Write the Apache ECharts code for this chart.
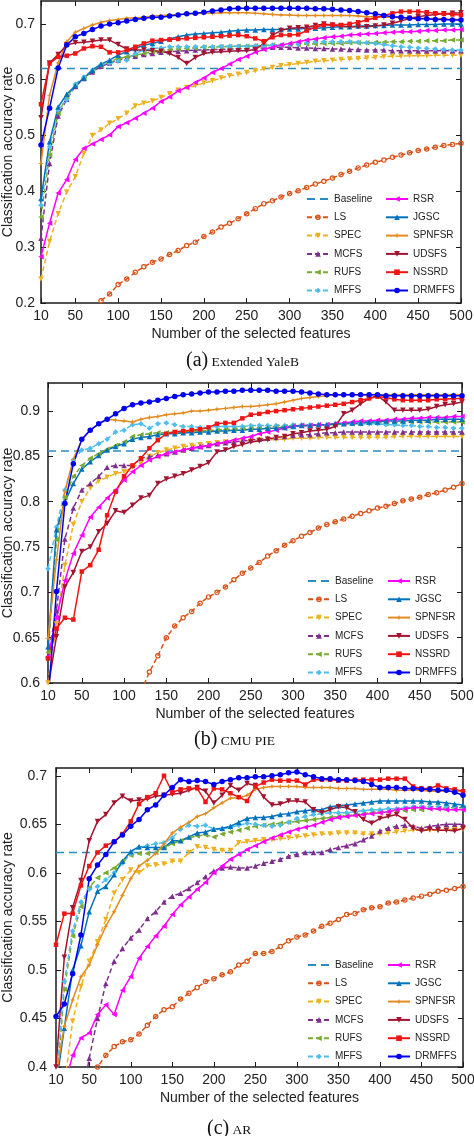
<!DOCTYPE html>
<html><head><meta charset="utf-8">
<script src="https://cdn.jsdelivr.net/npm/echarts@6/dist/echarts.min.js"></script>
<style>html,body{margin:0;padding:0;background:#fff}#c{width:474px;height:1136px}</style>
</head><body><div id="c"></div>
<script>
// ---------------- DATA ----------------
const xs = [10,20,30,40,50,60,70,80,90,100,110,120,130,140,150,160,170,180,190,200,
            210,220,230,240,250,260,270,280,290,300,310,320,330,340,350,360,370,380,390,400,
            410,420,430,440,450,460,470,480,490,500];
const xTicks = [10,50,100,150,200,250,300,350,400,450,500];
const methodNames = ['Baseline','LS','SPEC','MCFS','RUFS','MFFS','RSR','JGSC','SPNFSR','UDSFS','NSSRD','DRMFFS'];
const xAxisTitle = 'Number of the selected features';
const yAxisTitle = 'Classification accuracy rate';

// (a) Extended YaleB
const captionA = ['(a)', 'Extended YaleB'];
const yTicksA = [0.2,0.3,0.4,0.5,0.6,0.7];
const baselineA = 0.62;
const aLS = [null,null,null,null,null,null,null,0.204,0.216,0.233,
  0.243,0.255,0.265,0.273,0.279,0.287,0.294,0.303,0.309,0.319,
  0.327,0.336,0.343,0.351,0.360,0.369,0.378,0.383,0.390,0.396,
  0.401,0.407,0.413,0.418,0.424,0.430,0.436,0.442,0.447,0.452,
  0.456,0.461,0.465,0.469,0.473,0.476,0.479,0.482,0.484,0.486];
const aSPEC = [0.243,0.310,0.360,0.399,0.426,0.468,0.500,0.510,0.522,0.530,
  0.540,0.553,0.558,0.562,0.568,0.575,0.581,0.586,0.589,0.594,
  0.598,0.603,0.607,0.610,0.613,0.616,0.619,0.622,0.625,0.627,
  0.629,0.631,0.633,0.634,0.635,0.636,0.637,0.638,0.639,0.640,
  0.641,0.642,0.642,0.643,0.643,0.643,0.644,0.644,0.644,0.644];
const aMCFS = [0.316,0.450,0.535,0.565,0.588,0.602,0.614,0.624,0.630,0.635,
  0.639,0.642,0.645,0.647,0.649,0.650,0.651,0.652,0.653,0.653,
  0.654,0.654,0.655,0.655,0.656,0.657,0.657,0.658,0.658,0.658,
  0.657,0.657,0.656,0.656,0.655,0.655,0.654,0.654,0.653,0.653,
  0.653,0.652,0.652,0.652,0.652,0.652,0.652,0.652,0.652,0.652];
const aRUFS = [0.354,0.465,0.540,0.570,0.590,0.603,0.615,0.625,0.632,0.638,
  0.641,0.644,0.647,0.650,0.652,0.654,0.655,0.656,0.657,0.658,
  0.658,0.659,0.659,0.660,0.660,0.661,0.661,0.662,0.662,0.663,
  0.663,0.664,0.664,0.665,0.665,0.665,0.666,0.666,0.666,0.667,
  0.667,0.668,0.668,0.669,0.669,0.670,0.670,0.670,0.671,0.671];
const aMFFS = [0.375,0.480,0.546,0.564,0.592,0.605,0.617,0.627,0.630,0.633,
  0.635,0.647,0.653,0.656,0.657,0.659,0.659,0.659,0.659,0.659,
  0.659,0.660,0.660,0.660,0.660,0.661,0.661,0.662,0.662,0.663,
  0.664,0.666,0.668,0.668,0.668,0.668,0.668,0.667,0.666,0.665,
  0.663,0.661,0.659,0.658,0.657,0.656,0.655,0.654,0.653,0.653];
const aRSR = [0.283,0.343,0.397,0.421,0.457,0.477,0.485,0.493,0.501,0.516,
  0.523,0.531,0.540,0.549,0.561,0.569,0.580,0.586,0.595,0.603,
  0.613,0.620,0.628,0.636,0.642,0.649,0.654,0.658,0.662,0.665,
  0.668,0.671,0.673,0.675,0.677,0.678,0.680,0.681,0.682,0.683,
  0.684,0.685,0.686,0.686,0.687,0.688,0.688,0.689,0.689,0.690];
const aJGSC = [0.387,0.489,0.551,0.574,0.589,0.603,0.617,0.628,0.635,0.644,
  0.650,0.656,0.662,0.665,0.669,0.673,0.677,0.680,0.682,0.683,
  0.684,0.685,0.687,0.688,0.689,0.689,0.690,0.690,0.690,0.691,
  0.691,0.692,0.692,0.693,0.694,0.695,0.695,0.696,0.696,0.697,
  0.697,0.698,0.698,0.698,0.699,0.699,0.699,0.700,0.700,0.700];
const aSPNFSR = [0.450,0.572,0.630,0.668,0.685,0.692,0.698,0.703,0.706,0.708,
  0.710,0.711,0.712,0.714,0.715,0.716,0.717,0.718,0.718,0.719,
  0.719,0.720,0.720,0.720,0.720,0.719,0.718,0.717,0.716,0.716,
  0.715,0.715,0.715,0.715,0.715,0.715,0.715,0.714,0.713,0.713,
  0.712,0.712,0.711,0.711,0.710,0.710,0.709,0.709,0.708,0.708];
const aUDSFS = [0.532,0.630,0.645,0.662,0.666,0.667,0.669,0.671,0.671,0.663,
  0.655,0.653,0.653,0.652,0.651,0.647,0.640,0.629,0.640,0.647,
  0.649,0.650,0.651,0.652,0.652,0.654,0.665,0.680,0.688,0.692,
  0.693,0.694,0.697,0.700,0.698,0.696,0.695,0.695,0.695,0.696,
  0.698,0.701,0.705,0.710,0.713,0.715,0.717,0.718,0.719,0.720];
const aNSSRD = [0.556,0.629,0.641,0.643,0.647,0.656,0.660,0.659,0.649,0.649,
  0.653,0.659,0.665,0.670,0.671,0.672,0.673,0.674,0.675,0.676,
  0.677,0.678,0.679,0.680,0.678,0.674,0.669,0.676,0.680,0.680,
  0.681,0.688,0.694,0.698,0.698,0.698,0.700,0.703,0.707,0.711,
  0.715,0.719,0.722,0.722,0.722,0.721,0.719,0.718,0.717,0.716];
const aDRMFFS = [0.483,0.549,0.621,0.662,0.677,0.683,0.690,0.696,0.700,0.702,
  0.705,0.708,0.710,0.712,0.712,0.714,0.716,0.718,0.719,0.721,
  0.723,0.725,0.727,0.728,0.728,0.728,0.728,0.728,0.728,0.728,
  0.728,0.728,0.727,0.727,0.726,0.725,0.724,0.722,0.720,0.718,
  0.715,0.713,0.712,0.710,0.709,0.709,0.708,0.708,0.707,0.707];

// (b) CMU PIE
const captionB = ['(b)', 'CMU PIE'];
const yTicksB = [0.6,0.65,0.7,0.75,0.8,0.85,0.9];
const baselineB = 0.856;
const bLS = [null,null,null,null,null,null,null,null,null,null,
  null,0.590,0.612,0.630,0.650,0.663,0.672,0.679,0.688,0.695,
  0.700,0.706,0.714,0.721,0.727,0.733,0.740,0.746,0.752,0.757,
  0.762,0.766,0.771,0.775,0.778,0.781,0.784,0.787,0.790,0.793,
  0.795,0.798,0.801,0.803,0.805,0.808,0.810,0.813,0.816,0.820];
const bSPEC = [0.600,0.665,0.730,0.775,0.800,0.815,0.823,0.827,0.831,0.833,
  0.838,0.843,0.850,0.854,0.857,0.859,0.861,0.862,0.863,0.864,
  0.865,0.866,0.866,0.867,0.867,0.868,0.868,0.869,0.869,0.870,
  0.870,0.870,0.871,0.871,0.871,0.871,0.871,0.871,0.871,0.871,
  0.871,0.872,0.872,0.872,0.872,0.872,0.872,0.872,0.872,0.872];
const bMCFS = [0.630,0.680,0.759,0.793,0.813,0.820,0.828,0.838,0.840,0.840,
  0.840,0.848,0.850,0.851,0.853,0.855,0.857,0.859,0.861,0.862,
  0.864,0.865,0.866,0.867,0.868,0.869,0.870,0.871,0.872,0.873,
  0.874,0.874,0.875,0.876,0.876,0.877,0.877,0.877,0.877,0.877,
  0.877,0.877,0.877,0.877,0.877,0.877,0.877,0.877,0.877,0.877];
const bRUFS = [0.634,0.758,0.805,0.828,0.840,0.848,0.853,0.858,0.862,0.866,
  0.872,0.874,0.875,0.876,0.876,0.877,0.877,0.878,0.878,0.879,
  0.879,0.880,0.880,0.881,0.881,0.882,0.882,0.883,0.883,0.884,
  0.884,0.884,0.885,0.885,0.885,0.886,0.886,0.886,0.887,0.887,
  0.887,0.887,0.888,0.888,0.888,0.888,0.888,0.888,0.888,0.888];
const bMFFS = [0.726,0.772,0.813,0.846,0.857,0.859,0.864,0.869,0.877,0.879,
  0.885,0.886,0.881,0.886,0.887,0.885,0.883,0.883,0.882,0.882,
  0.883,0.883,0.883,0.883,0.884,0.884,0.884,0.884,0.884,0.885,
  0.885,0.885,0.885,0.885,0.886,0.886,0.886,0.886,0.886,0.886,
  0.885,0.885,0.884,0.884,0.883,0.883,0.882,0.882,0.881,0.881];
const bRSR = [0.629,0.672,0.713,0.743,0.763,0.783,0.794,0.804,0.813,0.824,
  0.833,0.840,0.846,0.850,0.853,0.855,0.857,0.859,0.860,0.862,
  0.864,0.866,0.868,0.870,0.872,0.875,0.877,0.879,0.881,0.883,
  0.884,0.884,0.885,0.885,0.886,0.887,0.888,0.889,0.889,0.890,
  0.890,0.891,0.891,0.892,0.892,0.893,0.893,0.893,0.894,0.894];
const bJGSC = [0.640,0.769,0.800,0.820,0.836,0.844,0.851,0.857,0.861,0.864,
  0.869,0.871,0.872,0.874,0.875,0.875,0.876,0.876,0.877,0.877,
  0.878,0.878,0.879,0.879,0.880,0.880,0.881,0.881,0.882,0.883,
  0.884,0.884,0.885,0.885,0.886,0.886,0.887,0.887,0.888,0.888,
  0.889,0.889,0.889,0.890,0.890,0.890,0.891,0.891,0.891,0.891];
const bSPNFSR = [0.649,0.736,0.811,0.847,0.868,0.879,0.886,0.891,0.890,0.889,
  0.888,0.891,0.893,0.894,0.896,0.897,0.898,0.900,0.900,0.901,
  0.902,0.903,0.904,0.905,0.905,0.906,0.907,0.908,0.910,0.912,
  0.914,0.915,0.916,0.917,0.918,0.918,0.918,0.918,0.918,0.918,
  0.918,0.918,0.918,0.918,0.918,0.918,0.918,0.918,0.918,0.918];
const bUDSFS = [0.595,0.651,0.706,0.722,0.745,0.750,0.767,0.776,0.790,0.788,
  0.796,0.804,0.807,0.820,0.825,0.828,0.831,0.835,0.839,0.843,
  0.855,0.857,0.861,0.863,0.866,0.867,0.869,0.871,0.872,0.875,
  0.876,0.878,0.879,0.880,0.883,0.897,0.901,0.908,0.914,0.917,
  0.910,0.901,0.901,0.901,0.901,0.902,0.905,0.907,0.908,0.910];
const bNSSRD = [0.627,0.660,0.672,0.670,0.723,0.730,0.747,0.785,0.811,0.828,
  0.840,0.848,0.859,0.868,0.875,0.877,0.878,0.879,0.880,0.882,
  0.886,0.887,0.887,0.892,0.896,0.897,0.899,0.900,0.901,0.902,
  0.903,0.904,0.905,0.906,0.907,0.908,0.910,0.912,0.914,0.916,
  0.915,0.913,0.912,0.912,0.912,0.912,0.913,0.913,0.914,0.914];
const bDRMFFS = [0.580,0.701,0.798,0.842,0.869,0.879,0.886,0.891,0.897,0.903,
  0.907,0.909,0.910,0.912,0.914,0.916,0.918,0.919,0.920,0.921,
  0.921,0.922,0.922,0.923,0.923,0.923,0.923,0.922,0.922,0.922,
  0.921,0.920,0.919,0.918,0.918,0.918,0.918,0.918,0.918,0.918,
  0.917,0.917,0.917,0.917,0.917,0.917,0.917,0.917,0.917,0.917];

// (c) AR
const captionC = ['(c)', 'AR'];
const yTicksC = [0.4,0.45,0.5,0.55,0.6,0.65,0.7];
const baselineC = 0.621;
const cLS = [null,null,null,null,0.390,0.400,0.412,0.421,0.426,0.428,
  0.434,0.443,0.452,0.459,0.462,0.470,0.476,0.482,0.488,0.491,
  0.495,0.498,0.505,0.509,0.517,0.517,0.519,0.524,0.530,0.534,
  0.536,0.540,0.545,0.548,0.552,0.557,0.558,0.562,0.564,0.565,
  0.569,0.570,0.572,0.574,0.576,0.578,0.581,0.582,0.584,0.586];
const cSPEC = [null,0.380,0.447,0.483,0.509,0.529,0.552,0.579,0.593,0.603,
  0.600,0.607,0.608,0.609,0.612,0.612,0.621,0.627,0.626,0.624,
  0.623,0.623,0.631,0.632,0.633,0.634,0.634,0.635,0.636,0.637,
  0.638,0.639,0.640,0.640,0.641,0.641,0.641,0.640,0.640,0.640,
  0.641,0.642,0.643,0.644,0.644,0.644,0.644,0.644,0.645,0.645];
const cMCFS = [null,null,null,0.360,0.409,0.450,0.486,0.509,0.522,0.533,
  0.541,0.553,0.560,0.570,0.576,0.579,0.584,0.590,0.596,0.602,
  0.605,0.606,0.605,0.605,0.607,0.610,0.612,0.614,0.617,0.619,
  0.621,0.621,0.621,0.624,0.626,0.628,0.630,0.634,0.638,0.643,
  0.646,0.648,0.649,0.648,0.646,0.648,0.649,0.650,0.650,0.650];
const cRUFS = [0.370,0.480,0.535,0.565,0.585,0.595,0.600,0.605,0.612,0.618,
  0.620,0.620,0.621,0.626,0.630,0.633,0.636,0.638,0.639,0.637,
  0.640,0.642,0.644,0.646,0.648,0.649,0.650,0.651,0.652,0.653,
  0.654,0.655,0.656,0.657,0.658,0.659,0.660,0.661,0.662,0.663,
  0.663,0.664,0.664,0.665,0.665,0.666,0.666,0.667,0.667,0.667];
const cMFFS = [0.380,0.488,0.540,0.570,0.583,0.586,0.593,0.600,0.610,0.620,
  0.626,0.628,0.630,0.631,0.636,0.645,0.649,0.648,0.649,0.645,
  0.645,0.647,0.649,0.651,0.650,0.649,0.648,0.649,0.652,0.656,
  0.658,0.660,0.661,0.662,0.662,0.662,0.663,0.664,0.665,0.665,
  0.666,0.666,0.667,0.668,0.668,0.668,0.668,0.668,0.668,0.668];
const cRSR = [null,0.380,0.412,0.430,0.435,0.454,0.464,0.454,0.479,0.493,
  0.512,0.524,0.535,0.545,0.557,0.567,0.575,0.583,0.590,0.600,
  0.607,0.614,0.619,0.624,0.628,0.632,0.636,0.639,0.642,0.645,
  0.647,0.649,0.652,0.655,0.657,0.658,0.659,0.660,0.661,0.662,
  0.663,0.665,0.666,0.667,0.667,0.666,0.666,0.665,0.665,0.665];
const cJGSC = [0.380,0.440,0.500,0.525,0.560,0.581,0.586,0.598,0.612,0.622,
  0.627,0.626,0.626,0.626,0.633,0.633,0.637,0.641,0.642,0.645,
  0.646,0.648,0.652,0.656,0.657,0.657,0.658,0.660,0.661,0.663,
  0.664,0.665,0.665,0.668,0.669,0.670,0.671,0.672,0.673,0.674,
  0.674,0.674,0.674,0.674,0.674,0.673,0.673,0.672,0.671,0.670];
const cSPNFSR = [0.390,0.442,0.469,0.493,0.505,0.526,0.545,0.560,0.577,0.594,
  0.607,0.613,0.620,0.630,0.641,0.647,0.652,0.658,0.661,0.667,
  0.672,0.677,0.677,0.680,0.686,0.688,0.689,0.689,0.689,0.689,
  0.688,0.688,0.688,0.688,0.687,0.687,0.687,0.686,0.686,0.686,
  0.686,0.685,0.685,0.685,0.685,0.684,0.684,0.684,0.684,0.684];
const cUDSFS = [0.400,0.513,0.564,0.592,0.633,0.653,0.660,0.672,0.679,0.674,
  0.675,0.676,0.679,0.680,0.681,0.682,0.685,0.688,0.684,0.672,
  0.680,0.690,0.685,0.692,0.690,0.678,0.670,0.671,0.674,0.674,
  0.673,0.665,0.662,0.665,0.668,0.667,0.663,0.655,0.651,0.656,
  0.658,0.660,0.655,0.646,0.643,0.645,0.644,0.644,0.643,0.646];
const cNSSRD = [0.526,0.558,0.558,0.587,0.607,0.621,0.628,0.632,0.640,0.653,
  0.671,0.678,0.682,0.700,0.683,0.686,0.687,0.687,0.673,0.687,
  0.686,0.682,0.678,0.674,0.689,0.693,0.696,0.695,0.695,0.695,
  0.691,0.696,0.696,0.696,0.695,0.695,0.696,0.696,0.696,0.696,
  0.697,0.697,0.697,0.689,0.687,0.687,0.690,0.687,0.686,0.684];
const cDRMFFS = [0.452,0.465,0.496,0.536,0.594,0.608,0.619,0.632,0.639,0.648,
  0.655,0.665,0.670,0.680,0.688,0.696,0.694,0.695,0.694,0.691,
  0.694,0.696,0.698,0.698,0.699,0.699,0.700,0.701,0.703,0.704,
  0.701,0.699,0.697,0.697,0.696,0.696,0.695,0.694,0.691,0.688,
  0.688,0.688,0.687,0.687,0.686,0.686,0.685,0.685,0.683,0.680];

// ---------------- STYLE / LAYOUT ----------------
const FONT = '"Liberation Sans", Arial, sans-serif';
const SERIF = '"Liberation Serif", "Times New Roman", serif';
const DASH = [5, 3];
const STAR = 'path://M5,0L6.3,3.7L10,5L6.3,6.3L5,10L3.7,6.3L0,5L3.7,3.7Z';
const RING = 'path://M5,0A5,5,0,1,1,5,10A5,5,0,1,1,5,0ZM5,2.2A2.8,2.8,0,1,0,5,7.8A2.8,2.8,0,1,0,5,2.2Z';
const NOMARK = 'path://M0,0L10,10';
const styles = {
  Baseline: {color:'#2b8cc4', type:[8,5], symbol:NOMARK, hide:true},
  LS:       {color:'#d95319', type:DASH, symbol:RING},
  SPEC:     {color:'#edb120', type:DASH, symbol:'triangle', rotate:180},
  MCFS:     {color:'#7e2f8e', type:DASH, symbol:'triangle'},
  RUFS:     {color:'#77ac30', type:DASH, symbol:'triangle', rotate:90},
  MFFS:     {color:'#4dbeee', type:DASH, symbol:'diamond'},
  RSR:      {color:'#ff00ff', type:'solid', symbol:'triangle', rotate:90},
  JGSC:     {color:'#0072bd', type:'solid', symbol:'triangle'},
  SPNFSR:   {color:'#e38b1b', type:'solid', symbol:STAR},
  UDSFS:    {color:'#a2142f', type:'solid', symbol:'triangle', rotate:180},
  NSSRD:    {color:'#f01414', type:'solid', symbol:'rect'},
  DRMFFS:   {color:'#0000f0', type:'solid', symbol:'circle'}
};

const panels = [
  {grid:{left:41, top:1, width:420, height:302}, yMin:0.2, yMax:0.741, yTicks:yTicksA, baseline:baselineA,
   series:{LS:aLS,SPEC:aSPEC,MCFS:aMCFS,RUFS:aRUFS,MFFS:aMFFS,RSR:aRSR,JGSC:aJGSC,SPNFSR:aSPNFSR,UDSFS:aUDSFS,NSSRD:aNSSRD,DRMFFS:aDRMFFS},
   yNameGap:26, yLabelMargin:6, legTop:194, leg1:306, leg2:385, caption:captionA, capLeft:186, capTop:351},
  {grid:{left:48, top:383, width:414, height:300}, yMin:0.6, yMax:0.931, yTicks:yTicksB, baseline:baselineB,
   series:{LS:bLS,SPEC:bSPEC,MCFS:bMCFS,RUFS:bRUFS,MFFS:bMFFS,RSR:bRSR,JGSC:bJGSC,SPNFSR:bSPNFSR,UDSFS:bUDSFS,NSSRD:bNSSRD,DRMFFS:bDRMFFS},
   yNameGap:33, yLabelMargin:8, legTop:576, leg1:307, leg2:387, caption:captionB, capLeft:194, capTop:730},
  {grid:{left:56, top:768, width:407, height:299}, yMin:0.4, yMax:0.708, yTicks:yTicksC, baseline:baselineC,
   series:{LS:cLS,SPEC:cSPEC,MCFS:cMCFS,RUFS:cRUFS,MFFS:cMFFS,RSR:cRSR,JGSC:cJGSC,SPNFSR:cSPNFSR,UDSFS:cUDSFS,NSSRD:cNSSRD,DRMFFS:cDRMFFS},
   yNameGap:41, yLabelMargin:9, legTop:960, leg1:307, leg2:387, caption:captionC, capLeft:207, capTop:1119}
];

const axisLine = {show:true, onZero:false, lineStyle:{color:'#1a1a1a', width:1.5}};
const grid = [], xAxis = [], yAxis = [], series = [], legend = [], graphic = [];

panels.forEach((p, i) => {
  grid.push(Object.assign({containLabel:false, outerBoundsMode:'none'}, p.grid));
  xAxis.push({gridIndex:i, type:'value', position:'bottom', min:10, max:500,
    axisLine, splitLine:{show:false},
    axisTick:{inside:true, length:5, customValues:xTicks, lineStyle:{color:'#1a1a1a'}},
    axisLabel:{customValues:xTicks, margin:6, fontSize:14, color:'#222', fontFamily:FONT},
    name:xAxisTitle, nameLocation:'middle', nameGap:24, nameMoveOverlap:false,
    nameTextStyle:{fontSize:14, color:'#222', fontFamily:FONT}});
  xAxis.push({gridIndex:i, type:'value', position:'top', min:10, max:500,
    axisLine, splitLine:{show:false},
    axisTick:{inside:true, length:5, customValues:xTicks, lineStyle:{color:'#1a1a1a'}},
    axisLabel:{show:false}});
  yAxis.push({gridIndex:i, type:'value', position:'left', min:p.yMin, max:p.yMax,
    axisLine, splitLine:{show:false},
    axisTick:{inside:true, length:5, customValues:p.yTicks, lineStyle:{color:'#1a1a1a'}},
    axisLabel:{customValues:p.yTicks, margin:p.yLabelMargin, fontSize:14, color:'#222', fontFamily:FONT},
    name:yAxisTitle, nameLocation:'middle', nameGap:p.yNameGap, nameRotate:90, nameMoveOverlap:false,
    nameTextStyle:{fontSize:14, color:'#222', fontFamily:FONT}});
  yAxis.push({gridIndex:i, type:'value', position:'right', min:p.yMin, max:p.yMax,
    axisLine, splitLine:{show:false},
    axisTick:{inside:true, length:5, customValues:p.yTicks, lineStyle:{color:'#1a1a1a'}},
    axisLabel:{show:false}});

  methodNames.forEach(name => {
    const st = styles[name];
    let data;
    if (name === 'Baseline') {
      data = [[xs[0], p.baseline], [xs[xs.length-1], p.baseline]];
    } else {
      const vals = p.series[name];
      data = [];
      xs.forEach((x, k) => { if (vals[k] !== null) data.push([x, vals[k]]); });
    }
    series.push({
      name, type:'line', xAxisIndex:2*i, yAxisIndex:2*i, data,
      symbol:st.symbol, symbolSize: st.symbol === 'rect' ? 4.5 : 5.5,
      symbolRotate: st.rotate || 0, showSymbol: !st.hide,
      lineStyle:{color:st.color, width:1.5, type:st.type},
      itemStyle:{color:st.color, borderWidth:0},
      clip:true, animation:false, z: 2
    });
  });

  const legBase = {orient:'vertical', top:p.legTop, itemWidth:22, itemHeight:7, itemGap:8.3, padding:0,
    selectedMode:false, textStyle:{fontSize:10, color:'#222', fontFamily:FONT, lineHeight:10}};
  legend.push(Object.assign({}, legBase, {left:p.leg1, data:methodNames.slice(0,6)}));
  legend.push(Object.assign({}, legBase, {left:p.leg2, data:methodNames.slice(6)}));

  graphic.push({type:'text', left:p.capLeft, top:p.capTop,
    style:{text:'{p|' + p.caption[0] + '} {t|' + p.caption[1] + '}',
      rich:{p:{fontSize:20, fontFamily:SERIF, fill:'#111', verticalAlign:'bottom'},
            t:{fontSize:13.5, fontFamily:SERIF, fill:'#111', verticalAlign:'bottom', padding:[0,0,2,0]}}}});
});

const chart = echarts.init(document.getElementById('c'), null, {renderer:'canvas'});
chart.setOption({backgroundColor:'#fff', animation:false, grid, xAxis, yAxis, series, legend, graphic});
</script>
</body></html>
